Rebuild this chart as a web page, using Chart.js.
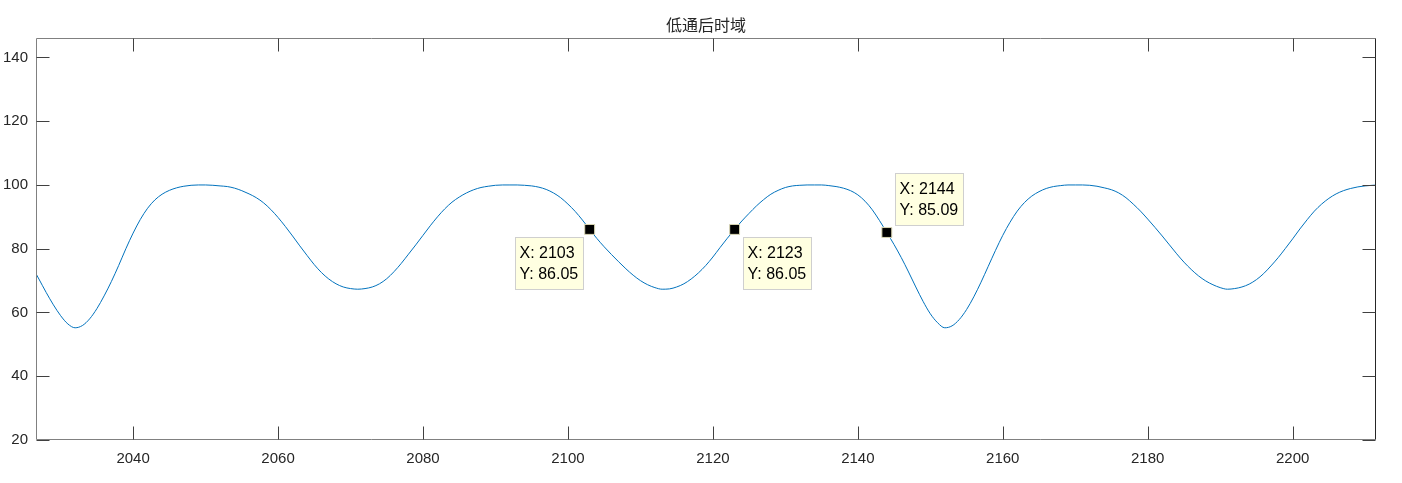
<!DOCTYPE html>
<html>
<head>
<meta charset="utf-8">
<script src="https://cdn.jsdelivr.net/npm/chart.js@4"></script>
<style>
  html, body { margin: 0; padding: 0; background: #fff; }
  canvas { display: block; }
</style>
</head>
<body>
<canvas id="lpChart" width="1402" height="483"></canvas>
<script>
  const chartTitle = '低通后时域';

  // samples start at x = 2026, one per unit
  const sampleStart = 2026;
  const signal = [
    74.6, 70.5, 66.3, 62.4, 59.0, 56.4, 55.2, 55.9, 58.0, 61.2,   // 2026
    65.2, 69.7, 74.7, 80.0, 84.9, 89.2, 92.7, 95.3, 97.1, 98.3,   // 2036
    99.1, 99.6, 99.9, 100, 100, 99.9, 99.7, 99.5, 99.0, 98.2,     // 2046
    97.2, 96.0, 94.4, 92.3, 89.8, 87.0, 84.0, 80.9, 77.9, 75.0,   // 2056
    72.5, 70.5, 69.0, 68.0, 67.5, 67.3, 67.5, 68.0, 69.0, 70.6,   // 2066
    72.8, 75.4, 78.3, 81.2, 84.2, 87.2, 90.0, 92.5, 94.6, 96.2,   // 2076
    97.5, 98.5, 99.2, 99.6, 99.9, 100, 100, 100, 99.9, 99.7,      // 2086
    99.3, 98.6, 97.5, 96.0, 94.0, 91.7, 89.0, 86.05, 83.2, 80.6,  // 2096
    78.2, 75.9, 73.7, 71.7, 70.0, 68.7, 67.8, 67.3, 67.4, 68.0,   // 2106
    69.0, 70.5, 72.4, 74.7, 77.4, 80.4, 83.3, 86.05, 88.7, 91.1,  // 2116
    93.4, 95.4, 97.1, 98.3, 99.2, 99.7, 99.9, 100, 100, 100,      // 2126
    99.8, 99.5, 99.0, 98.2, 96.9, 94.9, 92.2, 88.8, 85.09, 81.3,  // 2136
    77.2, 72.7, 68.0, 63.5, 59.6, 56.8, 55.2, 55.8, 57.8, 60.9,   // 2146
    64.9, 69.5, 74.5, 79.5, 84.2, 88.3, 91.8, 94.5, 96.5, 97.9,   // 2156
    98.9, 99.5, 99.8, 100, 100, 100, 99.9, 99.6, 99.1, 98.5,      // 2166
    97.5, 96.0, 94.0, 91.8, 89.3, 86.7, 84.0, 81.2, 78.4, 75.8,   // 2176
    73.5, 71.5, 69.9, 68.7, 67.8, 67.3, 67.5, 68.0, 68.9, 70.3,   // 2186
    72.2, 74.6, 77.2, 80.1, 83.1, 86.2, 89.1, 91.8, 94.0, 95.8,   // 2196
    97.2, 98.2, 98.9, 99.4, 99.7, 99.9, 100                       // 2206
  ];

  const tipX = [2103, 2123, 2144];
  const tipY = [86.05, 86.05, 85.09];

  const xTicks = [2040, 2060, 2080, 2100, 2120, 2140, 2160, 2180, 2200];
  const yTicks = [20, 40, 60, 80, 100, 120, 140];
  const xRange = [2026.6, 2211.5];
  const yRange = [20, 146.1];

  const linePoints = signal.map((v, i) => ({ x: sampleStart + i, y: v }));
  const tipPoints = tipX.map((x, i) => ({ x: x, y: tipY[i] }));

  // where each data tip box sits relative to its marker
  const tipPlacement = ['lowerLeft', 'lowerRight', 'upperRight'];

  const axisFont = { family: '"Liberation Sans", Arial, sans-serif', size: 15 };

  const matlabAxes = {
    id: 'matlabAxes',
    afterDraw(chart) {
      const ctx = chart.ctx;
      const a = chart.chartArea;
      const xs = chart.scales.x;
      const ys = chart.scales.y;
      const L = Math.round(a.left) + 0.5;
      const R = Math.round(a.right) - 0.5;
      const T = Math.round(a.top) + 0.5;
      const B = Math.round(a.bottom) - 0.5;
      const tickLen = 13;

      ctx.save();
      ctx.lineWidth = 1;

      // frame
      ctx.strokeStyle = '#808080';
      ctx.beginPath();
      ctx.moveTo(L, B); ctx.lineTo(L, T); ctx.lineTo(R, T);
      ctx.moveTo(L, B); ctx.lineTo(R, B);
      ctx.stroke();
      ctx.strokeStyle = '#262626';
      ctx.beginPath();
      ctx.moveTo(R, T); ctx.lineTo(R, B);
      ctx.stroke();

      // inward ticks on all four sides
      ctx.strokeStyle = '#404040';
      ctx.beginPath();
      xTicks.forEach(v => {
        const px = Math.round(xs.getPixelForValue(v)) + 0.5;
        ctx.moveTo(px, B); ctx.lineTo(px, B - tickLen);
        ctx.moveTo(px, T); ctx.lineTo(px, T + tickLen);
      });
      yTicks.forEach(v => {
        const py = Math.round(ys.getPixelForValue(v)) + 0.5;
        ctx.moveTo(L, py); ctx.lineTo(L + tickLen, py);
        ctx.moveTo(R, py); ctx.lineTo(R - tickLen, py);
      });
      ctx.stroke();

      // title
      ctx.fillStyle = '#262626';
      ctx.font = '16px "Noto Sans CJK SC", sans-serif';
      ctx.textAlign = 'center';
      ctx.textBaseline = 'middle';
      ctx.fillText(chartTitle, (a.left + a.right) / 2, 25);

      // data tips
      const meta = chart.getDatasetMeta(1);
      ctx.font = '16px "Liberation Sans", Arial, sans-serif';
      ctx.textAlign = 'left';
      ctx.textBaseline = 'middle';
      meta.data.forEach((pt, i) => {
        const lines = ['X: ' + tipX[i], 'Y: ' + tipY[i].toFixed(2)];
        const w = 68, h = 52;
        let bx, by;
        const place = tipPlacement[i];
        if (place === 'lowerLeft') { bx = pt.x - 7 - w; by = pt.y + 8; }
        else if (place === 'lowerRight') { bx = pt.x + 8; by = pt.y + 8; }
        else { bx = pt.x + 8; by = pt.y - 7 - h; }
        bx = Math.round(bx) + 0.5;
        by = Math.round(by) + 0.5;
        ctx.fillStyle = '#ffffe1';
        ctx.fillRect(bx, by, w, h);
        ctx.strokeStyle = '#cfcfcf';
        ctx.strokeRect(bx, by, w, h);
        ctx.fillStyle = '#000';
        ctx.fillText(lines[0], bx + 4, by + 16);
        ctx.fillText(lines[1], bx + 4, by + 37);
      });
      ctx.restore();
    }
  };

  new Chart(document.getElementById('lpChart'), {
    type: 'line',
    data: {
      datasets: [{
        data: linePoints,
        borderColor: '#0072bd',
        borderWidth: 1,
        pointRadius: 0,
        cubicInterpolationMode: 'monotone',
        fill: false,
        order: 1
      }, {
        data: tipPoints,
        showLine: false,
        pointStyle: 'rect',
        pointRadius: 7,
        pointBackgroundColor: '#000',
        pointBorderColor: '#d9d6b4',
        pointBorderWidth: 1,
        order: 0
      }]
    },
    options: {
      responsive: false,
      animation: false,
      devicePixelRatio: 1,
      layout: { padding: { left: 0, right: 26, top: 38, bottom: 0 } },
      plugins: {
        legend: { display: false },
        title: { display: false },
        tooltip: { enabled: false }
      },
      scales: {
        x: {
          type: 'linear',
          min: xRange[0],
          max: xRange[1],
          grid: { display: false, drawTicks: false },
          border: { display: false },
          afterBuildTicks: s => { s.ticks = xTicks.map(v => ({ value: v })); },
          afterFit: s => { s.height = 43; },
          ticks: {
            font: axisFont, color: '#262626', padding: 10, maxRotation: 0, autoSkip: false,
            callback: v => String(v)
          }
        },
        y: {
          type: 'linear',
          min: yRange[0],
          max: yRange[1],
          grid: { display: false, drawTicks: false },
          border: { display: false },
          afterBuildTicks: s => { s.ticks = yTicks.map(v => ({ value: v })); },
          afterFit: s => { s.width = 36; },
          ticks: {
            font: axisFont, color: '#262626', padding: 8, autoSkip: false,
            callback: v => String(v)
          }
        }
      }
    },
    plugins: [matlabAxes]
  });
</script>
</body>
</html>
